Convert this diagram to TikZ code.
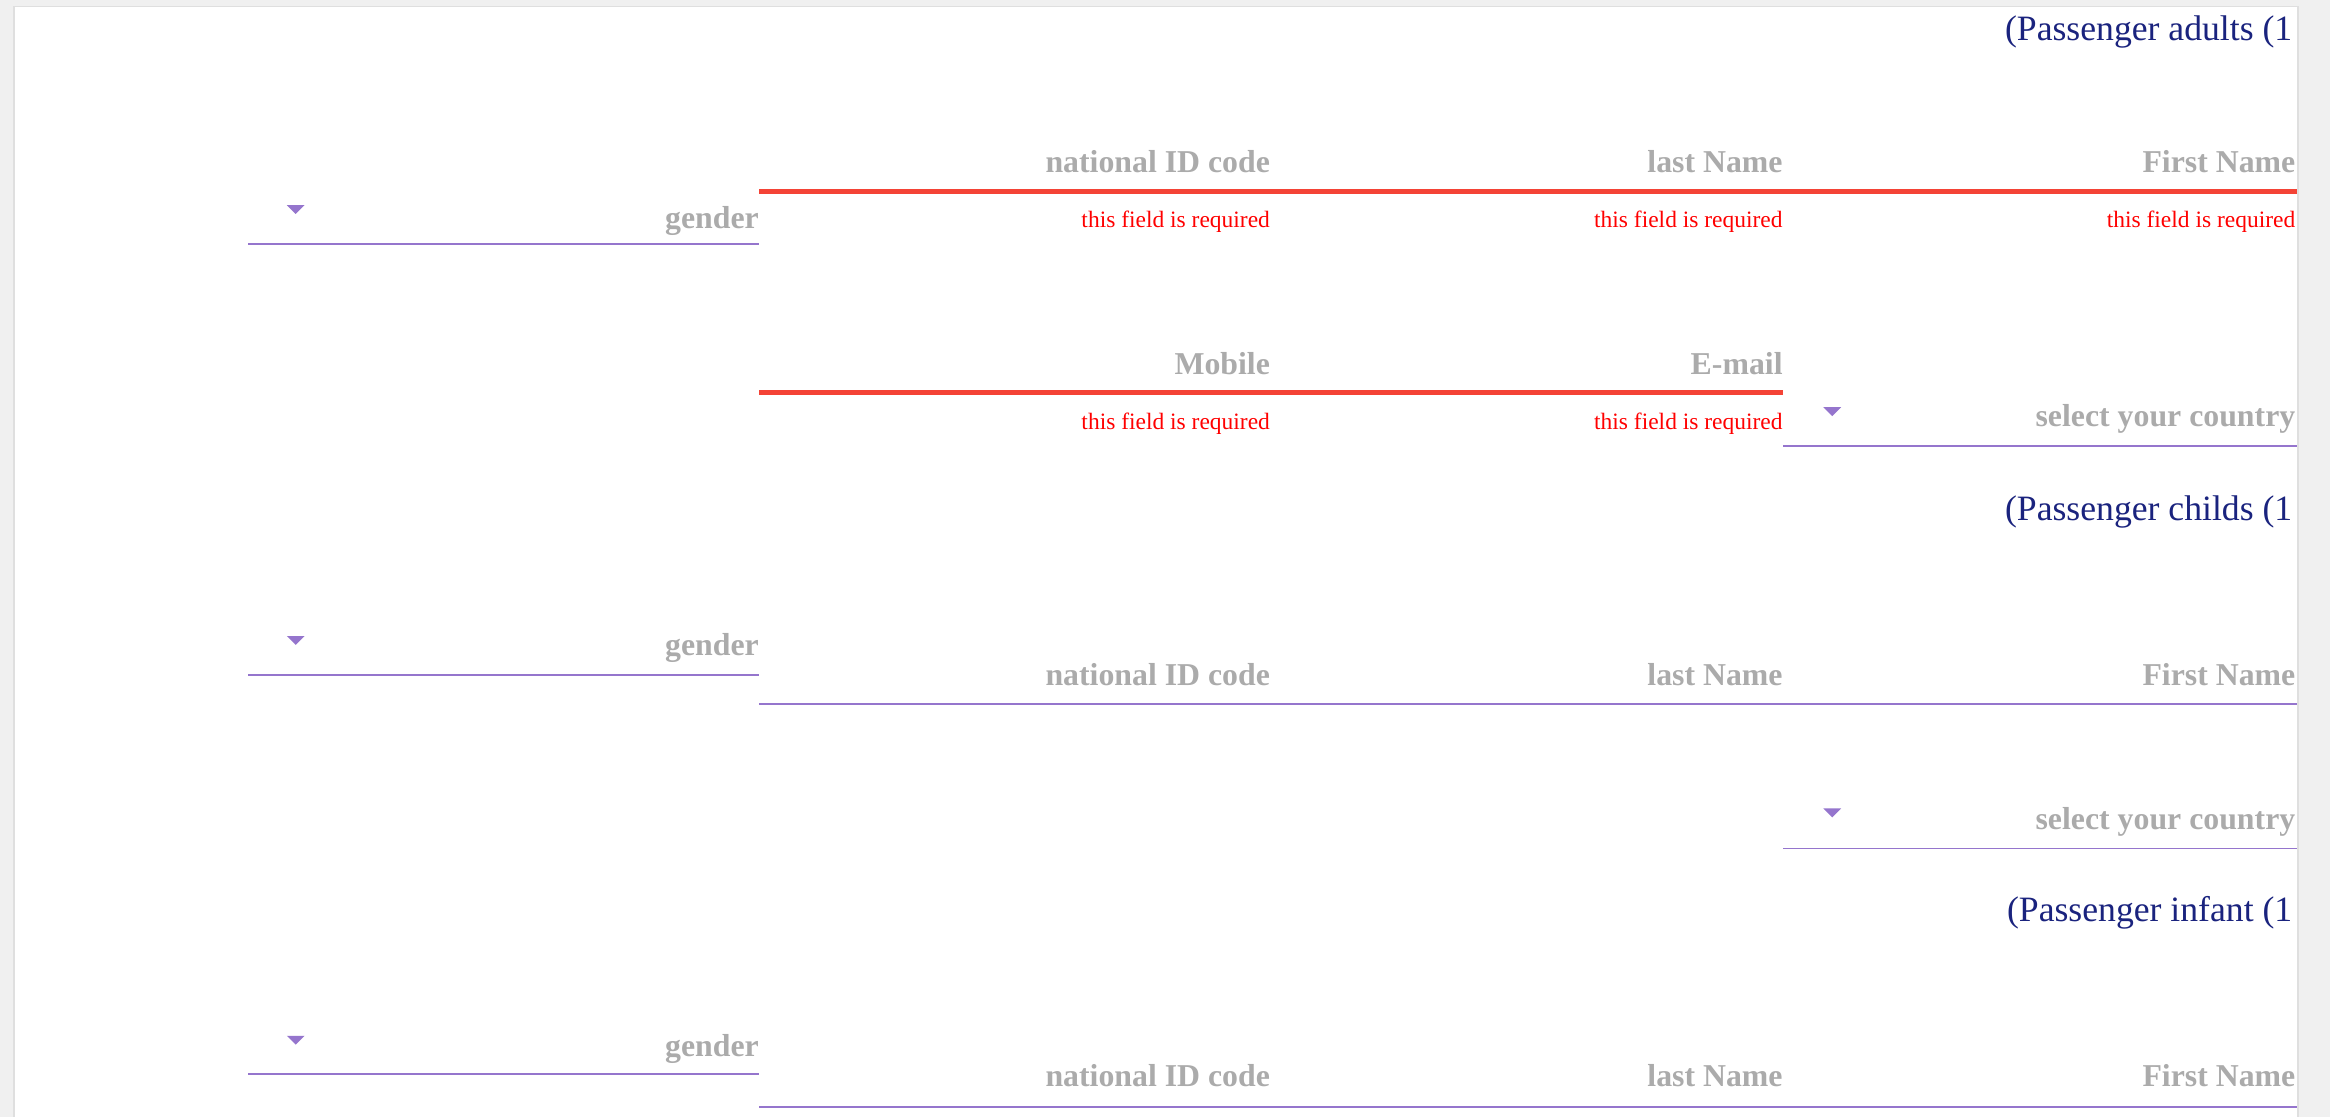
\documentclass[tikz,border=0pt]{standalone}
\usepackage{fontspec}
\setmainfont{Liberation Serif}
\definecolor{pur}{HTML}{9575CD}
\definecolor{rd}{HTML}{F44336}
\definecolor{nv}{HTML}{1A237E}
\definecolor{gy}{HTML}{ABABAB}
\begin{document}
\begin{tikzpicture}[x=0.5pt,y=-0.5pt,
  lbl/.style={anchor=base east,inner sep=0pt,text=gy,font=\bfseries\fontsize{10.7}{12}\selectfont},
  err/.style={anchor=base east,inner sep=0pt,text=red,font=\fontsize{7.9}{9}\selectfont},
  ttl/.style={anchor=base east,inner sep=0pt,text=nv,font=\fontsize{12}{14}\selectfont},
  redl/.style={draw=rd,line width=1.5pt},
  purl/.style={draw=pur,line width=0.6pt},
  tri/.style={fill=pur,draw=none}]
\useasboundingbox (0,0) rectangle (1568,752);
\fill[gray!12] (0,0) rectangle (1568,752);
\fill[gray!25] (9,4) rectangle (1547,752);
\fill[white] (10,5) rectangle (1546,752);
\begin{scope}
\clip (10,5) rectangle (1546,752);
% adults
\node[ttl] (t1) at (1543,27) {(Passenger adults (1};
\node[lbl] (a1) at (855,116) {national ID code};
\node[lbl] (a2) at (1200,116) {last Name};
\node[lbl] (a3) at (1545,116) {First Name};
\coordinate (r1s) at (511,129); \coordinate (r1e) at (1546,129);
\draw[redl] (r1s) -- (r1e);
\node[err] (e1) at (855,153) {this field is required};
\node[err] (e2) at (1200,153) {this field is required};
\node[err] (e3) at (1545,153) {this field is required};
\node[lbl] (g1) at (511,154) {gender};
\fill[tri] (193,138) -- (205,138) -- (199,144) -- cycle;
\coordinate (g1s) at (167,164); \coordinate (g1e) at (511,164);
\draw[purl] (g1s) -- (g1e);
\node[lbl] (m1) at (855,252) {Mobile};
\node[lbl] (m2) at (1200,252) {E-mail};
\coordinate (r2s) at (511,264); \coordinate (r2e) at (1200,264);
\draw[redl] (r2s) -- (r2e);
\node[err] (e4) at (855,289) {this field is required};
\node[err] (e5) at (1200,289) {this field is required};
\fill[tri] (1227,274) -- (1239,274) -- (1233,280) -- cycle;
\node[lbl] (c1) at (1545,287) {select your country};
\coordinate (c1s) at (1200,300); \coordinate (c1e) at (1546,300);
\draw[purl] (c1s) -- (c1e);
% childs
\node[ttl] (t2) at (1543,350) {(Passenger childs (1};
\fill[tri] (193,428) -- (205,428) -- (199,434) -- cycle;
\node[lbl] (g2) at (511,441) {gender};
\coordinate (g2s) at (167,454); \coordinate (g2e) at (511,454);
\draw[purl] (g2s) -- (g2e);
\node[lbl] (b1) at (855,461) {national ID code};
\node[lbl] (b2) at (1200,461) {last Name};
\node[lbl] (b3) at (1545,461) {First Name};
\coordinate (l2s) at (511,474); \coordinate (l2e) at (1546,474);
\draw[purl] (l2s) -- (l2e);
\fill[tri] (1227,544) -- (1239,544) -- (1233,550) -- cycle;
\node[lbl] (c2) at (1545,558) {select your country};
\coordinate (c2s) at (1200,571); \coordinate (c2e) at (1546,571);
\draw[purl] (c2s) -- (c2e);
% infant
\node[ttl] (t3) at (1543,620) {(Passenger infant (1};
\fill[tri] (193,697) -- (205,697) -- (199,703) -- cycle;
\node[lbl] (g3) at (511,711) {gender};
\coordinate (g3s) at (167,723); \coordinate (g3e) at (511,723);
\draw[purl] (g3s) -- (g3e);
\node[lbl] (d1) at (855,731) {national ID code};
\node[lbl] (d2) at (1200,731) {last Name};
\node[lbl] (d3) at (1545,731) {First Name};
\coordinate (l3s) at (511,745); \coordinate (l3e) at (1546,745);
\draw[purl] (l3s) -- (l3e);
\end{scope}
\end{tikzpicture}
\end{document}
